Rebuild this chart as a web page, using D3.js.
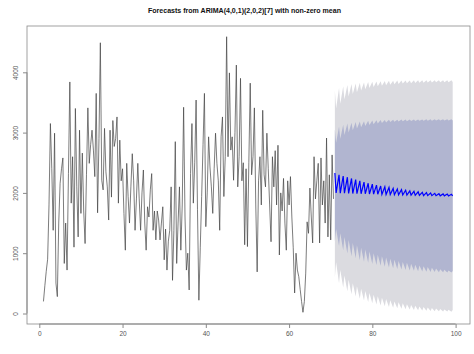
<!DOCTYPE html>
<html>
<head>
<meta charset="utf-8">
<script src="https://cdn.jsdelivr.net/npm/d3@7"></script>
<style>
  body { margin: 0; background: #fff; }
  #chart { display: block; }
</style>
</head>
<body>
<svg id="chart" width="474" height="354"></svg>
<script>
// observed series, 3 values per seasonal period, starting at t = 1
var histStart = 1;
var histStep = 1 / 3;
var histValues = [
  200, 460, 700,     900, 1800, 3150,   2400, 1380, 2990,  505, 280, 1500,
  2160, 2400, 2580,  830, 1500, 720,    2320, 3840, 1830,  2600, 1100, 3400,
  2100, 1270, 3040,  1660, 2660, 1700,  1160, 2300, 3410,  2490, 2800, 3040,
  2710, 2270, 3650,  1670, 2900, 4490,  2210, 2050, 3070,  2350, 2100, 1550,
  3040, 1930, 3200,  2770, 2900, 3260,  1830, 2875, 2200,  2400, 1660, 1050,
  2490, 1940, 1500,  2100, 2650, 2200,  1380, 1900, 2490,  1900, 1380, 2000,
  2380, 1500, 1050,  1770, 1600, 2050,  2320, 1380, 1700,  1220, 1700, 1550,
  1220, 1500, 1770,  890, 1400, 720,    1200, 1380, 2100,  550, 1380, 2850,
  830, 1500, 2100,   1050, 1800, 3420,  1600, 720, 1000,   390, 2320, 3150,
  1830, 2500, 3540,  1720, 220, 1100,   1940, 2800, 3650,  1440, 2000, 2930,
  2430, 2100, 1660,  2400, 2990, 2490,  2200, 1380, 2930,  3260, 1940, 2600,
  4590, 2600, 3990,  2710, 2930, 2210,  3000, 4120, 2100,  2600, 3900, 2200,
  2500, 1140, 2400,  1110, 2500, 3820,  2300, 2600, 3410,  1800, 690, 2200,
  2600, 1800, 3370,  2300, 2100, 2990,  2400, 1800, 1190,  2600, 2100, 2700,
  1800, 2790, 970,   2000, 1700, 2240,  1500, 1050, 2200,  1800, 2270, 1600,
  1090, 340, 1000,   720, 610, 400,     200, 20, 200,      670, 1520, 1330,
  2080, 1600, 1170,  2600, 1900, 2200,  2490, 1170, 2580,  1800, 2200, 1500,
  2910, 1270, 2300,  1220, 2630, 1900
];

// forecast, one value per period for the high day and the low day
var fcStart = 71;
var fcLowOffset = 0.3;
var meanHigh = [2330, 2300, 2280, 2260, 2240, 2220, 2200, 2180, 2160, 2145, 2130, 2115, 2100, 2090, 2075,
                2065, 2055, 2045, 2035, 2025, 2018, 2010, 2004, 1998, 1992, 1987, 1983, 1980, 1977];
var meanLow  = [2000, 1995, 1995, 1990, 1990, 1988, 1985, 1985, 1982, 1980, 1978, 1976, 1974, 1972, 1970,
                1968, 1966, 1964, 1962, 1960, 1958, 1956, 1955, 1954, 1953, 1952, 1951, 1950, 1950];
var hi80High = [3050, 3100, 3130, 3150, 3165, 3175, 3185, 3190, 3195, 3200, 3205, 3208, 3210, 3212, 3214,
                3215, 3216, 3217, 3218, 3218, 3219, 3219, 3220, 3220, 3220, 3220, 3220, 3220, 3220];
var hi80Low  = [2830, 2900, 2960, 3000, 3040, 3070, 3090, 3110, 3125, 3140, 3150, 3160, 3168, 3175, 3180,
                3185, 3188, 3190, 3192, 3194, 3195, 3196, 3197, 3198, 3199, 3200, 3200, 3200, 3200];
var lo80High = [1400, 1330, 1270, 1220, 1170, 1130, 1090, 1060, 1030, 1000, 975, 950, 930, 910, 890,
                870, 855, 840, 825, 810, 795, 782, 770, 758, 746, 735, 725, 715, 705];
var lo80Low  = [1200, 1120, 1050, 995, 950, 915, 885, 860, 840, 820, 805, 790, 775, 762, 750,
                740, 730, 722, 715, 708, 702, 697, 693, 690, 687, 685, 683, 681, 680];
var hi95High = [3700, 3740, 3770, 3790, 3805, 3815, 3825, 3832, 3838, 3843, 3848, 3852, 3855, 3858, 3860,
                3862, 3864, 3865, 3866, 3867, 3868, 3869, 3870, 3870, 3870, 3870, 3870, 3870, 3870];
var hi95Low  = [3400, 3480, 3550, 3600, 3640, 3670, 3700, 3720, 3740, 3755, 3768, 3778, 3787, 3795, 3802,
                3808, 3813, 3817, 3820, 3823, 3826, 3828, 3830, 3832, 3834, 3835, 3836, 3837, 3838];
var lo95High = [850, 720, 630, 560, 500, 450, 410, 375, 340, 310, 285, 260, 240, 220, 200,
                185, 170, 155, 142, 130, 118, 108, 98, 90, 82, 75, 68, 62, 58];
var lo95Low  = [600, 500, 430, 370, 320, 280, 245, 215, 190, 168, 150, 134, 120, 108, 97,
                88, 80, 72, 66, 60, 55, 50, 46, 42, 39, 36, 34, 32, 30];

var xTicks = [0, 20, 40, 60, 80, 100];
var yTicks = [0, 1000, 2000, 3000, 4000];
var title = "Forecasts from ARIMA(4,0,1)(2,0,2)[7] with non-zero mean";

var svg;

document.addEventListener('DOMContentLoaded', function() {
  svg = d3.select('#chart');
  drawChart();
});

// turn the high/low arrays into a zigzag of (t, v) points
function zigzag(high, low) {
  var pts = [];
  high.forEach(function(h, i) {
    pts.push({ t: fcStart + i, v: h });
    pts.push({ t: fcStart + i + fcLowOffset, v: low[i] });
  });
  return pts;
}

function drawChart() {
  var box = { left: 27, right: 470, top: 26, bottom: 324 };

  var x = d3.scaleLinear().domain([0, 100]).range([39.3, 455.6]);
  var y = d3.scaleLinear().domain([0, 4000]).range([313.5, 72.3]);

  var hist = histValues.map(function(v, i) { return { t: histStart + i * histStep, v: v }; });

  var area = d3.area()
    .x(function(d) { return x(d.t); })
    .y0(function(d) { return y(d.lo); })
    .y1(function(d) { return y(d.hi); });

  function band(hiH, hiL, loH, loL) {
    var up = zigzag(hiH, hiL);
    var down = zigzag(loH, loL);
    return up.map(function(d, i) { return { t: d.t, hi: d.v, lo: down[i].v }; });
  }

  // 95% then 80% shaded intervals
  svg.append('path')
    .datum(band(hi95High, hi95Low, lo95Low, lo95High))
    .attr('fill', '#dbdbe0')
    .attr('d', area);

  svg.append('path')
    .datum(band(hi80High, hi80Low, lo80Low, lo80High))
    .attr('fill', '#b1b5d0')
    .attr('d', area);

  var line = d3.line()
    .x(function(d) { return x(d.t); })
    .y(function(d) { return y(d.v); });

  svg.append('path')
    .datum(hist)
    .attr('fill', 'none')
    .attr('stroke', '#444')
    .attr('stroke-width', 0.7)
    .attr('stroke-linejoin', 'round')
    .attr('d', line);

  svg.append('path')
    .datum(zigzag(meanHigh, meanLow))
    .attr('fill', 'none')
    .attr('stroke', '#0000ff')
    .attr('stroke-width', 1.2)
    .attr('d', line);

  // box round the plot region
  svg.append('rect')
    .attr('x', box.left)
    .attr('y', box.top)
    .attr('width', box.right - box.left)
    .attr('height', box.bottom - box.top)
    .attr('fill', 'none')
    .attr('stroke', '#8a8a8a')
    .attr('stroke-width', 0.8);

  var xAxis = svg.append('g')
    .attr('transform', 'translate(0,' + box.bottom + ')')
    .call(d3.axisBottom(x).tickValues(xTicks).tickFormat(d3.format('d')).tickSize(4).tickPadding(3));
  xAxis.select('.domain')
    .attr('d', 'M' + x(0) + ',0H' + x(100))
    .attr('stroke', '#8a8a8a');

  var yAxis = svg.append('g')
    .attr('transform', 'translate(' + box.left + ',0)')
    .call(d3.axisLeft(y).tickValues(yTicks).tickFormat(d3.format('d')).tickSize(4).tickPadding(3));
  yAxis.select('.domain')
    .attr('d', 'M0,' + y(0) + 'V' + y(4000))
    .attr('stroke', '#8a8a8a');
  yAxis.selectAll('.tick text')
    .attr('x', 0)
    .attr('dy', 0)
    .attr('transform', 'translate(-9,0) rotate(-90)')
    .attr('text-anchor', 'middle');

  svg.selectAll('.tick line').attr('stroke', '#8a8a8a');
  svg.selectAll('.tick text')
    .attr('fill', '#555')
    .attr('font-family', 'Liberation Sans, Arial, sans-serif')
    .attr('font-size', '6.5px');

  svg.append('text')
    .attr('x', (box.left + box.right) / 2 - 4)
    .attr('y', 13)
    .attr('text-anchor', 'middle')
    .attr('font-family', 'Liberation Sans, Arial, sans-serif')
    .attr('font-weight', 'bold')
    .attr('font-size', '7px')
    .attr('textLength', 193)
    .attr('lengthAdjust', 'spacingAndGlyphs')
    .attr('fill', '#111')
    .text(title);
}
</script>
</body>
</html>
